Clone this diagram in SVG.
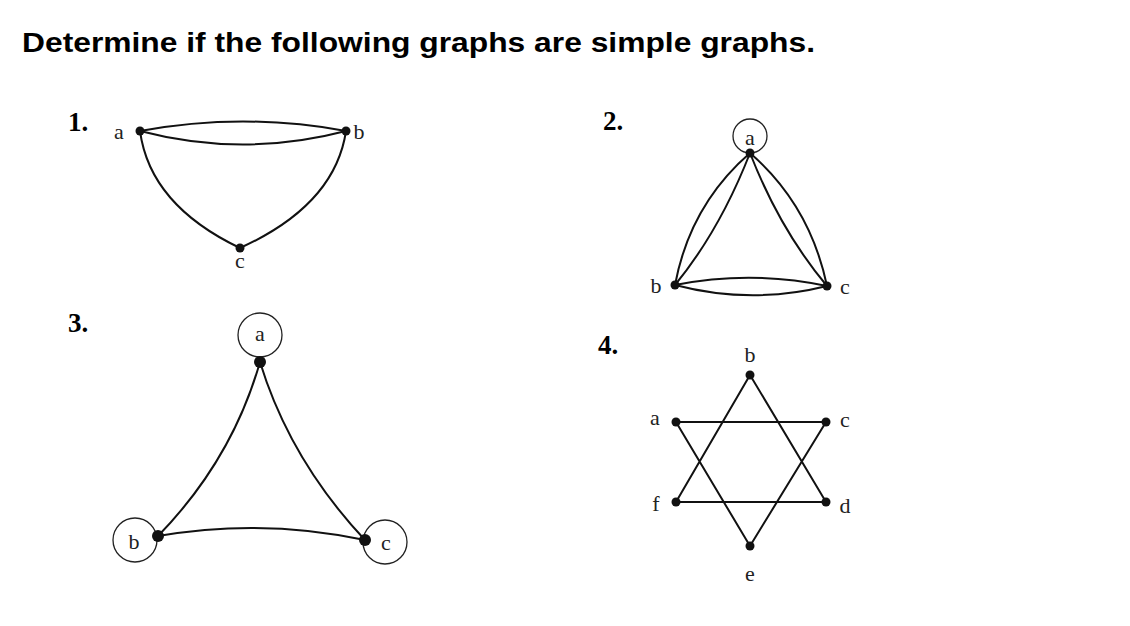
<svg xmlns="http://www.w3.org/2000/svg" width="1130" height="626" viewBox="0 0 1130 626">
<style>
.t{font-family:"Liberation Sans",Arial,sans-serif;font-weight:bold;font-size:28px;fill:#000}
.n{font-family:"Liberation Serif","Times New Roman",serif;font-weight:bold;font-size:27px;fill:#000}
.l{font-family:"Liberation Serif","Times New Roman",serif;font-size:22px;fill:#222;text-anchor:middle}
.e{fill:none;stroke:#111;stroke-width:2}
.lp{fill:none;stroke:#222;stroke-width:1.3}
.d{fill:#111}
</style>
<rect width="1130" height="626" fill="#fff"/>
<text class="t" x="22" y="52" textLength="793" lengthAdjust="spacingAndGlyphs">Determine if the following graphs are simple graphs.</text>
<text class="n" x="68" y="131">1.</text>
<text class="n" x="603" y="130">2.</text>
<text class="n" x="68" y="332">3.</text>
<text class="n" x="598" y="354">4.</text>
<g id="connectors">
<path class="e" d="M140,131 Q243,112 346,131"/>
<path class="e" d="M140,131 Q243,158 346,131"/>
<path class="e" d="M140,131 Q150,205 240,248"/>
<path class="e" d="M346,131 Q335,205 240,248"/>
<path class="e" d="M750,153 Q690,205 675,285"/>
<path class="e" d="M750,153 Q720,230 675,285"/>
<path class="e" d="M750,153 Q810,205 827,286"/>
<path class="e" d="M750,153 Q780,230 827,286"/>
<path class="e" d="M675,285 Q751,270 827,286"/>
<path class="e" d="M675,285 Q751,305 827,286"/>
<path class="e" d="M260,362 Q232,460 158,536"/>
<path class="e" d="M260,362 Q290,460 365,540"/>
<path class="e" d="M158,536 Q262,518 365,540"/>
<path class="e" d="M676,422 L826,422 M676,502 L826,502 M750,375 L676,502 M750,375 L826,502 M750,546 L676,422 M750,546 L826,422"/>
</g>
<g id="g1a"><circle class="d" cx="140" cy="131" r="4.5"/><text class="l" x="119" y="139">a</text></g>
<g id="g1b"><circle class="d" cx="346" cy="131" r="4.5"/><text class="l" x="359" y="139">b</text></g>
<g id="g1c"><circle class="d" cx="240" cy="248" r="4.5"/><text class="l" x="240" y="268">c</text></g>
<g id="g2a"><circle class="lp" cx="750" cy="136" r="17"/><circle class="d" cx="750" cy="153" r="4.5"/><text class="l" x="750" y="145">a</text></g>
<g id="g2b"><circle class="d" cx="675" cy="285" r="4.5"/><text class="l" x="656" y="293">b</text></g>
<g id="g2c"><circle class="d" cx="827" cy="286" r="4.5"/><text class="l" x="845" y="294">c</text></g>
<g id="g3a"><circle class="lp" cx="260" cy="335" r="22"/><circle class="d" cx="260" cy="362" r="6"/><text class="l" x="260" y="341">a</text></g>
<g id="g3b"><circle class="lp" cx="135" cy="540" r="22"/><circle class="d" cx="158" cy="536" r="6"/><text class="l" x="134" y="549">b</text></g>
<g id="g3c"><circle class="lp" cx="385" cy="542" r="22"/><circle class="d" cx="365" cy="540" r="6"/><text class="l" x="386" y="550">c</text></g>
<g id="g4b"><circle class="d" cx="750" cy="375" r="4.5"/><text class="l" x="750" y="362">b</text></g>
<g id="g4a"><circle class="d" cx="676" cy="422" r="4.5"/><text class="l" x="655" y="425">a</text></g>
<g id="g4c"><circle class="d" cx="826" cy="422" r="4.5"/><text class="l" x="845" y="427">c</text></g>
<g id="g4f"><circle class="d" cx="676" cy="502" r="4.5"/><text class="l" x="656" y="511">f</text></g>
<g id="g4d"><circle class="d" cx="826" cy="502" r="4.5"/><text class="l" x="845" y="513">d</text></g>
<g id="g4e"><circle class="d" cx="750" cy="546" r="4.5"/><text class="l" x="750" y="581">e</text></g>
</svg>
